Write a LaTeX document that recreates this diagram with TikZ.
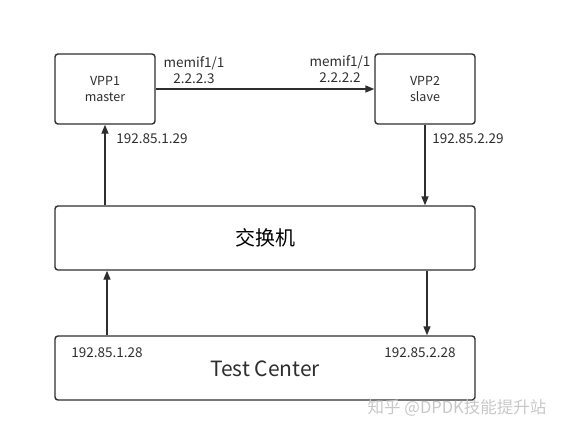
\documentclass[tikz,border=0pt]{standalone}
\usepackage{fontspec}
\setmainfont{Noto Sans CJK SC}
\usetikzlibrary{arrows.meta}
\definecolor{linegray}{HTML}{2E2E2E}
\definecolor{markgray}{HTML}{C8C8C8}
\begin{document}
\begin{tikzpicture}[x=1pt,y=-1pt]
        \tikzset{box/.style={draw=linegray,line width=1.4pt,rounded corners=3pt,inner sep=0pt,align=center},
                 link/.style={draw=linegray,line width=1.4pt,-{Triangle[length=9pt,width=7pt]}},
                 small/.style={font=\fontsize{13.5}{16}\selectfont,inner sep=0pt,align=center,text=linegray}}
        \useasboundingbox (0,0) rectangle (561,432);
        \node[box,small,font=\fontsize{12.5}{16}\selectfont,minimum width=100,minimum height=70] (vpp1) at (105,89) {VPP1\\master};
        \node[box,small,font=\fontsize{12.5}{16}\selectfont,minimum width=100,minimum height=70] (vpp2) at (425,89) {VPP2\\slave};
        \node[box,minimum width=420,minimum height=64,font=\fontsize{20}{22}\selectfont] (switch) at (265,238) {交换机};
        \node[box,minimum width=420,minimum height=64] (tc) at (265,368) {};
        \node[inner sep=0pt,font=\fontsize{21}{23}\selectfont,text=linegray] (tclabel) at (265,369) {Test Center};
        \node[small] (memif1) at (194,70) {memif1/1\\2.2.2.3};
        \node[small] (memif2) at (340,69) {memif1/1\\2.2.2.2};
        \node[small] (ip129) at (152,139) {192.85.1.29};
        \node[small] (ip229) at (468,139) {192.85.2.29};
        \node[small] (ip128) at (107,353) {192.85.1.28};
        \node[small] (ip228) at (420,353) {192.85.2.28};
        \node[inner sep=0pt,font=\fontsize{16.5}{18}\selectfont,text=markgray] (mark) at (457,408) {知乎 @DPDK技能提升站};
        \draw[link] (vpp1) -- (vpp2);
        \draw[link] (vpp1 |- switch.north) -- (vpp1.south);
        \draw[link] (vpp2.south) -- (vpp2 |- switch.north);
        \draw[link] ([xshift=2pt]vpp1 |- tc.north) -- ([xshift=2pt]vpp1 |- switch.south);
        \draw[link] ([xshift=2pt]vpp2 |- switch.south) -- ([xshift=2pt]vpp2 |- tc.north);
\end{tikzpicture}
\end{document}
